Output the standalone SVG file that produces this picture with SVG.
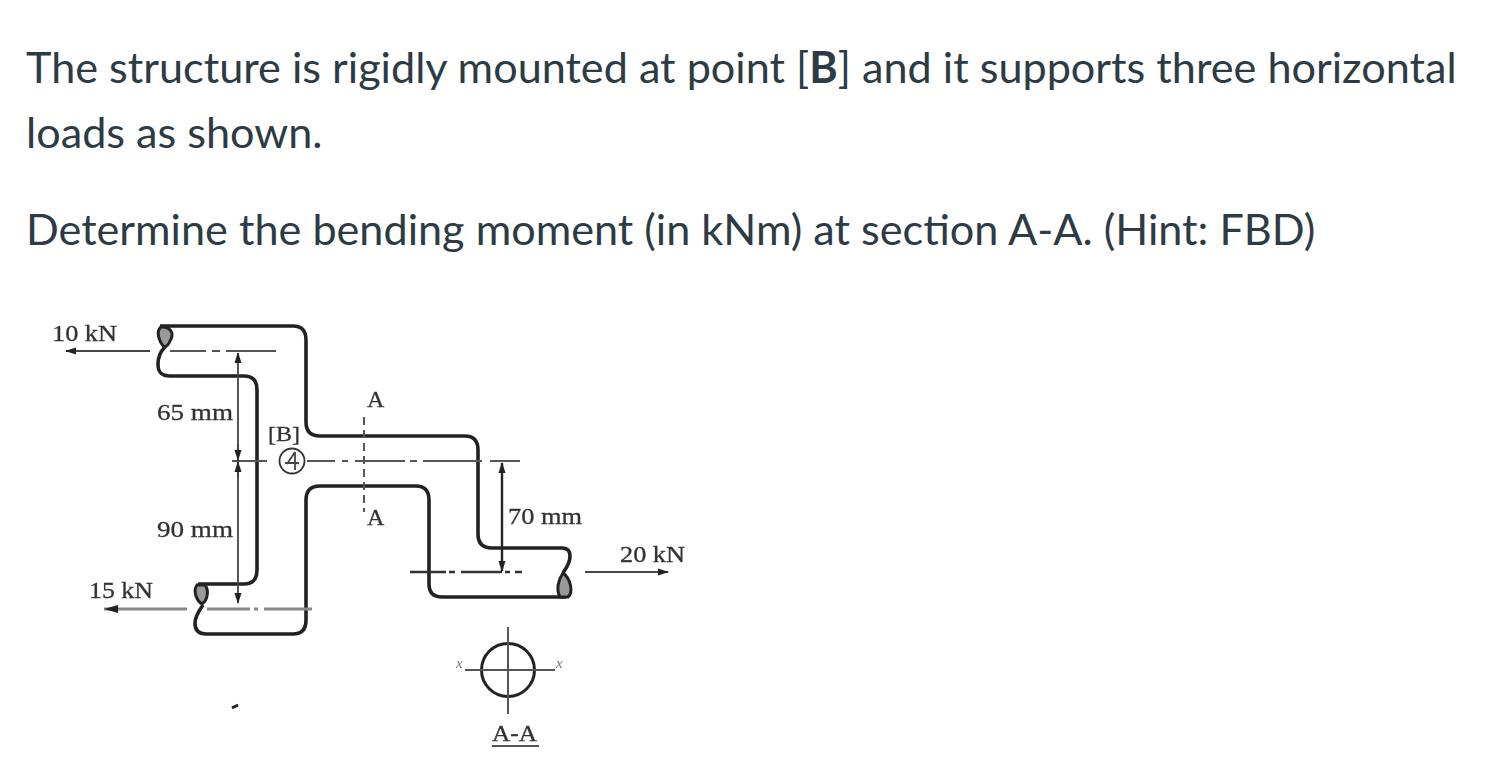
<svg xmlns="http://www.w3.org/2000/svg" width="1500" height="780" viewBox="0 0 1500 780">
<defs>
<style>
.q{font-family:Lato,"Liberation Sans",sans-serif;font-size:43.2px;fill:#2d3b45}
.l{font-family:"Liberation Serif",serif;font-size:24px;fill:#333;stroke:#333;stroke-width:.3}
.x{font-family:"Liberation Serif",serif;font-size:15px;font-style:italic;fill:#777}
.s{fill:none;stroke:#222;stroke-width:3.6}
.c{fill:none;stroke:#555;stroke-width:2}
.d{fill:none;stroke:#444;stroke-width:1.8}
.g{fill:#999;stroke:#222;stroke-width:3}
</style>
<filter id="b" x="-5%" y="-5%" width="110%" height="110%"><feGaussianBlur stdDeviation="0.7"/></filter>
<marker id="a" markerWidth="11" markerHeight="8" refX="10" refY="4" orient="auto-start-reverse" markerUnits="userSpaceOnUse"><path d="M0 .5L11 4L0 7.5Z" fill="#222"/></marker>
</defs>
<rect width="1500" height="780" fill="#fff"/>
<g id="question">
<text class="q" x="26" y="83">The structure is rigidly mounted at point [<tspan font-weight="700">B</tspan>] and it supports three horizontal</text>
<text class="q" x="26" y="148">loads as shown.</text>
<text class="q" x="26" y="245">Determine the bending moment (in kNm) at section A-A. (Hint: FBD)</text>
</g>
<g filter="url(#b)">
<g id="structure">
<path class="s" d="M160 326H293Q306 326 306 340V422Q306 436 320 436H465Q478 436 478 450V534Q478 548 492 548H562Q570 548 570 556C570 564 566 568 563 573"/>
<path class="s" d="M165 347C160 352 158 358 158 364C158 372 161 376 170 376H244Q257 376 257 390V570Q257 584 244 584H198"/>
<path class="s" d="M203 605C198 612 195 617 195 623C195 630 198 634 206 634H293Q306 634 306 620V500Q306 486 320 486H416Q429 486 429 500V584Q429 597 442 597H566"/>
<path class="g" d="M161 327C170 326 174 333 171 339C169 344 167 347 164 347C160 343 155 332 161 327Z"/>
<path class="g" d="M197 585H205C209 590 208 600 202 604C198 602 192 592 197 585Z"/>
<path class="g" d="M563 573C570 578 574 592 568 597H560C556 590 558 580 563 573Z"/>
</g>
<g id="connectors">
<path class="d" d="M150 351H66" marker-end="url(#a)"/>
<path class="c" stroke="#888" style="stroke:#888;stroke-width:3" d="M187 609H104"/>
<path d="M118 605L104 609L118 613Z" fill="#222"/>
<path class="d" stroke-width="2.4" d="M585 572H668" marker-end="url(#a)"/>
<path class="c" d="M170 351H206M212 351H220M226 351H276"/>
<path class="c" style="stroke:#888;stroke-width:3" d="M207 609H250M254 609H258M264 609H312"/>
<path class="c" d="M232 461H267M307 461H335M342 461H348M355 461H405M410 461H417M423 461H482M490 461H520"/>
<path class="c" style="stroke:#333;stroke-width:2.6" d="M410 572H446M449 572H455M461 572H502M505 572H510M515 572H522"/>
<path class="c" stroke-dasharray="8 5" d="M364 417V512"/>
<path class="d" d="M238 353V603" marker-start="url(#a)" marker-end="url(#a)"/>
<path class="d" d="M238 444V460" marker-end="url(#a)"/>
<path class="d" d="M238 478V462" marker-end="url(#a)"/>
<path class="d" style="stroke:#222;stroke-width:2.4" d="M502 463V571" marker-start="url(#a)" marker-end="url(#a)"/>
<path class="d" d="M232 708L238 705" style="stroke:#222;stroke-width:3"/>
</g>
<g id="node-b">
<circle cx="292" cy="461" r="12.5" fill="#fff" stroke="#333" stroke-width="1.8"/>
<path class="d" d="M285 463H299M295 452L287 464M295 452V470"/>
<text class="l" x="268" y="441" textLength="32" lengthAdjust="spacingAndGlyphs" style="font-size:22px">[B]</text>
</g>
<g id="section-aa">
<circle cx="508" cy="670" r="26.5" fill="none" stroke="#222" stroke-width="3"/>
<path class="c" d="M508 627V714M465 670H555"/>
<text class="x" x="456" y="668">x</text>
<text class="x" x="556" y="668">x</text>
<text class="l" x="492" y="741" textLength="45" lengthAdjust="spacingAndGlyphs">A-A</text>
<path class="c" d="M492 746H539"/>
</g>
<g id="labels">
<text class="l" x="52" y="341" textLength="65" lengthAdjust="spacingAndGlyphs">10 kN</text>
<text class="l" x="157" y="420" textLength="76" lengthAdjust="spacingAndGlyphs">65 mm</text>
<text class="l" x="157" y="537" textLength="76" lengthAdjust="spacingAndGlyphs">90 mm</text>
<text class="l" x="89" y="598" textLength="64" lengthAdjust="spacingAndGlyphs">15 kN</text>
<text class="l" x="508" y="524" textLength="74" lengthAdjust="spacingAndGlyphs">70 mm</text>
<text class="l" x="620" y="562" textLength="65" lengthAdjust="spacingAndGlyphs">20 kN</text>
<text class="l" x="367" y="407">A</text>
<text class="l" x="367" y="525">A</text>
</g>
</g>
</svg>
